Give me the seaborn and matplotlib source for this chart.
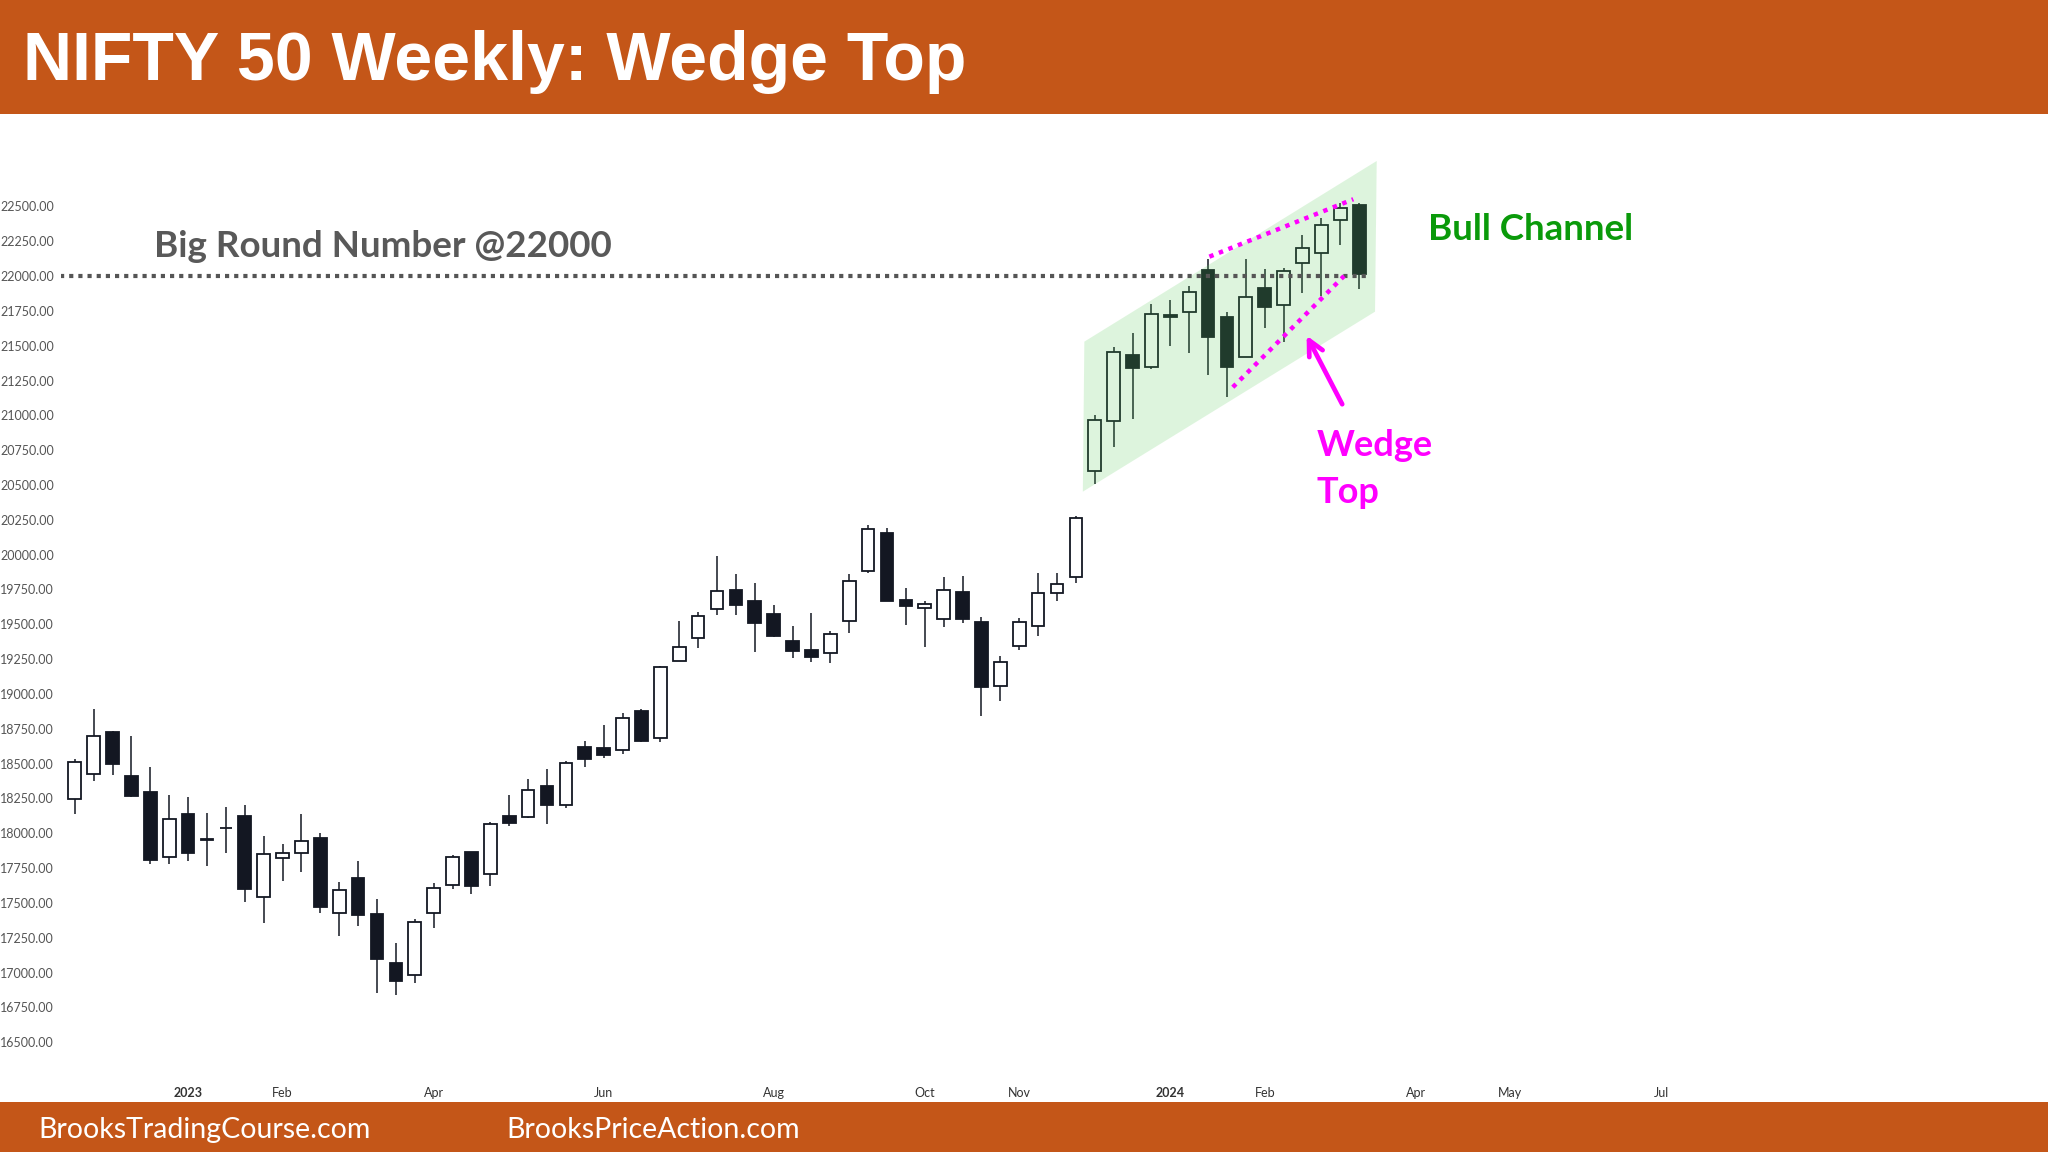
"""
NIFTY 50 weekly candles - wedge top in a bull channel
"""
import numpy as np
import pandas as pd
import matplotlib
matplotlib.use("Agg")
import matplotlib.pyplot as plt
import matplotlib.dates as mdates
from matplotlib.patches import Polygon, Rectangle
import seaborn as sns

# ── data (weekly OHLC) ─────────────────────────────────
first_week = "2022-11-21"
opens = [18248, 18427, 18727, 18409, 18294, 17832, 18135, 17955, 18035, 18122,
         17545, 17819, 17860, 17968, 17427, 17678, 17422, 17068, 16981, 17427,
         17632, 17863, 17707, 18127, 18119, 18340, 18201, 18619, 18609, 18596,
         18876, 18686, 19240, 19401, 19610, 19745, 19664, 19574, 19378, 19317,
         19294, 19521, 19883, 20156, 19671, 19620, 19536, 19730, 19518, 19054,
         19342, 19485, 19725, 19840, 20597, 20960, 21431, 21350, 21720, 21739,
         22043, 21708, 21422, 21916, 21794, 22096, 22163, 22402, 22509]
highs = [18532, 18891, 18732, 18701, 18478, 18273, 18258, 18145, 18191, 18204,
         17978, 17922, 18135, 18004, 17653, 17801, 17530, 17212, 17383, 17640,
         17845, 17863, 18083, 18273, 18391, 18460, 18517, 18665, 18776, 18865,
         18891, 19204, 19521, 19587, 19990, 19863, 19794, 19641, 19485, 19582,
         19455, 19863, 20215, 20194, 19763, 19666, 19837, 19845, 19552, 19271,
         19544, 19870, 19870, 20281, 21001, 21489, 21594, 21799, 21828, 21928,
         22124, 21742, 22122, 22048, 22060, 22294, 22413, 22521, 22521]
lows = [18137, 18373, 18419, 18260, 17781, 17781, 17799, 17768, 17858, 17504,
        17358, 17660, 17722, 17427, 17260, 17332, 16853, 16840, 16922, 17319,
        17599, 17563, 17619, 18050, 18109, 18063, 18183, 18473, 18542, 18568,
        18655, 18653, 19238, 19332, 19564, 19564, 19302, 19411, 19256, 19233,
        19225, 19437, 19865, 19664, 19495, 19340, 19483, 19511, 18845, 18947,
        19314, 19419, 19669, 19794, 20506, 20772, 20977, 21331, 21498, 21446,
        21288, 21135, 21420, 21625, 21529, 21876, 21857, 22222, 21907]
closes = [18511, 18701, 18494, 18268, 17806, 18101, 17858, 17960, 18037, 17601,
          17853, 17860, 17942, 17468, 17594, 17414, 17101, 16942, 17363, 17606,
          17832, 17624, 18065, 18071, 18314, 18201, 18506, 18532, 18563, 18830,
          18665, 19194, 19335, 19559, 19738, 19638, 19511, 19419, 19309, 19266,
          19432, 19814, 20184, 19669, 19633, 19648, 19745, 19536, 19049, 19228,
          19518, 19725, 19791, 20260, 20963, 21455, 21338, 21728, 21704, 21885,
          21565, 21345, 21847, 21780, 22033, 22203, 22368, 22490, 22014]

tick_dates = ["2023-01-02", "2023-02-06", "2023-04-03", "2023-06-05", "2023-08-07",
              "2023-10-02", "2023-11-06", "2024-01-01", "2024-02-05", "2024-04-01",
              "2024-05-06", "2024-07-01"]
tick_labels = ["2023", "Feb", "Apr", "Jun", "Aug", "Oct", "Nov",
               "2024", "Feb", "Apr", "May", "Jul"]
price_ticks = list(range(16500, 22501, 250))
round_number = 22000

# ── style ───────────────────────────────
ORANGE = "#C45618"
BEAR = "#131722"
MAGENTA = "#FF00FF"
GREEN_TXT = "#0A9A0A"

sns.set_theme(style="white")
plt.rcParams["font.family"] = ["Lato", "DejaVu Sans"]

df = pd.DataFrame({"open": opens, "high": highs, "low": lows, "close": closes})
df["date"] = pd.date_range(first_week, periods=len(df), freq="7D")
df["x"] = mdates.date2num(df["date"])
df["bull"] = df["close"] >= df["open"]

ref = mdates.date2num(pd.Timestamp("2023-01-02"))


def wk(w):
    """weeks relative to the first 2023 bar -> x data coordinate"""
    return ref + 7 * w


fig = plt.figure(figsize=(20.48, 11.52), dpi=100)
ax = fig.add_axes([61 / 2048, 1 - 1080 / 1152, 1 - 61 / 2048, (1080 - 114) / 1152])

# ── candles ─────────────────────────────
ax.vlines(df["x"], df["low"], df["high"], color=BEAR, linewidth=1.1, zorder=2)
body_lo = np.minimum(df["open"], df["close"])
body_h = np.maximum(np.abs(df["close"] - df["open"]), 6)
ax.bar(df["x"], body_h, bottom=body_lo, width=4.7,
       color=np.where(df["bull"], "white", BEAR), edgecolor=BEAR,
       linewidth=1.3, zorder=3)

# ── bull channel ────────────────────────
channel = [(wk(47.45), 21529), (wk(62.93), 22826), (wk(62.84), 21744), (wk(47.37), 20452)]
ax.add_patch(Polygon(channel, closed=True, facecolor="#59CC59", alpha=0.2,
                     edgecolor="none", zorder=4))

# big round number line
ax.plot([wk(-6.8), wk(62.35)], [round_number, round_number], color="#555555",
        linewidth=3.0, linestyle=(0, (1, 1.2)), zorder=5)

# wedge lines
ax.plot([wk(54.07), wk(61.69)], [22139, 22551], color=MAGENTA, linewidth=3.2,
        linestyle=(0, (1, 1.3)), zorder=6)
ax.plot([wk(55.31), wk(61.2)], [21202, 22000], color=MAGENTA, linewidth=3.2,
        linestyle=(0, (1, 1.3)), zorder=6)
ax.annotate("", xy=(wk(59.15), 21590), xytext=(wk(61.17), 21062),
            arrowprops=dict(arrowstyle="->,head_length=0.9,head_width=0.45",
                            color=MAGENTA, linewidth=3.4), zorder=6)

# ── labels ──────────────────────────────
ax.text(wk(-1.8), 22212, "Big Round Number @22000", color="#595959",
        fontsize=26.5, fontweight="bold", va="center", ha="left")
ax.text(wk(65.63), 22335, "Bull Channel", color=GREEN_TXT,
        fontsize=26.5, fontweight="bold", va="center", ha="left")
ax.text(wk(59.75), 20785, "Wedge", color=MAGENTA,
        fontsize=26, fontweight="bold", va="center", ha="left")
ax.text(wk(59.75), 20448, "Top", color=MAGENTA,
        fontsize=26, fontweight="bold", va="center", ha="left")

# ── axes ────────────────────────────────
ax.set_xlim(wk(-6.73), wk(98.47))
ax.set_ylim(16229, 23163)
ax.set_xticks(mdates.date2num(pd.to_datetime(tick_dates)))
ax.set_xticklabels(tick_labels)
for lab in ax.get_xticklabels():
    if lab.get_text() in ("2023", "2024"):
        lab.set_fontweight("bold")
ax.set_yticks(price_ticks)
ax.set_yticklabels([f"{p:.2f}" for p in price_ticks])
ax.tick_params(axis="x", length=0, pad=5, labelsize=9, labelcolor="#333333")
ax.tick_params(axis="y", length=0, pad=5, labelsize=9, labelcolor="#555555")
sns.despine(ax=ax, left=True, bottom=True)
ax.grid(False)

# ── title / footer bands ────────────────
fig.patches.append(Rectangle((0, 1 - 114 / 1152), 1, 114 / 1152, transform=fig.transFigure,
                             facecolor=ORANGE, edgecolor="none", zorder=0))
fig.patches.append(Rectangle((0, 0), 1, 50 / 1152, transform=fig.transFigure,
                             facecolor=ORANGE, edgecolor="none", zorder=0))
fig.text(23 / 2048, 1 - 62 / 1152, "NIFTY 50 Weekly: Wedge Top", color="white",
         fontsize=49, fontweight="bold", va="center", ha="left",
         family=["Liberation Sans", "DejaVu Sans"])
fig.text(38 / 2048, 22 / 1152, "BrooksTradingCourse.com", color="white",
         fontsize=20.5, va="center", ha="left")
fig.text(506 / 2048, 22 / 1152, "BrooksPriceAction.com", color="white",
         fontsize=20.5, va="center", ha="left")

fig.savefig("out.png", dpi=100)
print("saved out.png")
